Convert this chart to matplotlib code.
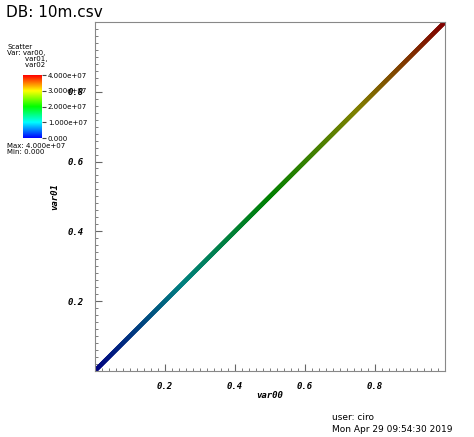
import numpy as np
import matplotlib
matplotlib.use("Agg")
import matplotlib.pyplot as plt
from matplotlib.collections import LineCollection
from matplotlib.colors import LinearSegmentedColormap, Normalize
from matplotlib.ticker import MultipleLocator

# data: scatter points lie on y = x, coloured by var02
x_ends = [0.0, 1.0]
y_ends = [0.0, 1.0]
v_ends = [0.0, 4.0e7]
ticks = [0.2, 0.4, 0.6, 0.8]
cbar_ticks = [0.0, 1.0e7, 2.0e7, 3.0e7, 4.0e7]
cbar_labels = ["0.000", "1.000e+07", "2.000e+07", "3.000e+07", "4.000e+07"]

cmap = LinearSegmentedColormap.from_list(
    "visit_hot", ["#0000ff", "#00ffff", "#00ff00", "#ffff00", "#ff0000"])
norm = Normalize(v_ends[0], v_ends[1])

fig = plt.figure(figsize=(4.74, 4.37), dpi=100)
ax = fig.add_axes([0.200, 0.151, 0.739, 0.799])

# smooth colour along the line (rendering samples only)
t = np.linspace(0, 1, 400)
xs = x_ends[0] + t * (x_ends[1] - x_ends[0])
ys = y_ends[0] + t * (y_ends[1] - y_ends[0])
vs = v_ends[0] + t * (v_ends[1] - v_ends[0])
pts = np.column_stack([xs, ys]).reshape(-1, 1, 2)
segs = np.concatenate([pts[:-1], pts[1:]], axis=1)
cols = cmap(norm(vs[:-1]))
cols[:, :3] *= 0.5  # shaded look
ax.add_collection(LineCollection(segs, colors=cols, linewidths=3.2,
                                 capstyle="round"))

ax.set_xlim(0, 1)
ax.set_ylim(0, 1)
tf = dict(family="DejaVu Sans Mono", weight="bold", style="italic", size=6.5)
ax.set_xticks(ticks)
ax.set_yticks(ticks)
ax.set_xticklabels([f"{v:.1f}" for v in ticks], **tf)
ax.set_yticklabels([f"{v:.1f}" for v in ticks], **tf)
ax.xaxis.set_minor_locator(MultipleLocator(0.02))
ax.yaxis.set_minor_locator(MultipleLocator(0.02))
ax.tick_params(which="both", direction="in", color="#666666",
               top=False, right=False)
ax.tick_params(which="major", length=5, pad=8)
ax.tick_params(which="minor", length=2.5)
for s in ax.spines.values():
    s.set_color("#888888")
    s.set_linewidth(0.8)
ax.set_xlabel("var00", labelpad=0, **tf)
ax.set_ylabel("var01", labelpad=6, **tf)

fig.text(0.012, 0.955, "DB: 10m.csv", fontsize=11, va="bottom")
fig.text(0.015, 0.845, "Scatter\nVar: var00,\n        var01,\n        var02",
         fontsize=5, va="bottom", linespacing=0.95)
fig.text(0.015, 0.645, "Max: 4.000e+07\nMin: 0.000", fontsize=5,
         va="bottom", linespacing=0.95)

cax = fig.add_axes([0.049, 0.684, 0.040, 0.144])
grad = np.linspace(0, 1, 256).reshape(-1, 1)
cax.imshow(grad, cmap=cmap, aspect="auto", origin="lower",
           extent=[0, 1, v_ends[0], v_ends[1]])
cax.set_xticks([])
cax.yaxis.tick_right()
cax.set_yticks(cbar_ticks)
cax.set_yticklabels(cbar_labels, fontsize=5)
cax.tick_params(axis="y", length=3, pad=1, color="#444444")
for s in cax.spines.values():
    s.set_visible(False)

fig.text(0.70, 0.040, "user: ciro", fontsize=6.5)
fig.text(0.70, 0.012, "Mon Apr 29 09:54:30 2019", fontsize=6.5)

fig.savefig("out.png", dpi=100)
